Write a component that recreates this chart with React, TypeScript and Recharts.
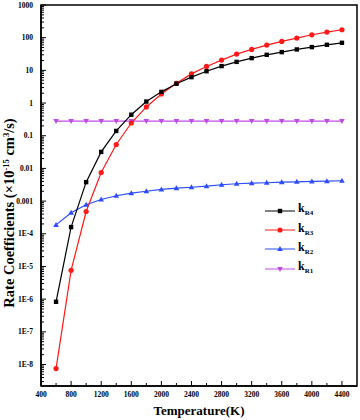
import { LineChart, Line, XAxis, YAxis, ReferenceArea } from "recharts";

const temps = [600, 800, 1000, 1200, 1400, 1600, 1800, 2000, 2200, 2400, 2600, 2800, 3000, 3200, 3400, 3600, 3800, 4000, 4200, 4400];
const kR4 = [8.3e-7, 1.6e-4, 3.8e-3, 0.032, 0.14, 0.44, 1.11, 2.2, 3.9, 6.2, 9.4, 13.5, 18.2, 23.7, 29.9, 36.2, 43.7, 51.5, 60.6, 69.8];
const kR3 = [7.5e-9, 7.6e-6, 4.8e-4, 7.5e-3, 0.054, 0.245, 0.76, 1.9, 4.0, 7.8, 13.2, 20.6, 31.4, 43.7, 59.3, 76.9, 97, 122.7, 148.6, 174.6];
const kR2 = [1.87e-4, 4.4e-4, 7.7e-4, 1.12e-3, 1.46e-3, 1.75e-3, 2.0e-3, 2.27e-3, 2.49e-3, 2.65e-3, 2.86e-3, 3.16e-3, 3.4e-3, 3.54e-3, 3.64e-3, 3.8e-3, 3.9e-3, 4.0e-3, 4.07e-3, 4.2e-3];
const kR1 = [0.28, 0.28, 0.28, 0.28, 0.28, 0.28, 0.28, 0.28, 0.28, 0.28, 0.28, 0.28, 0.28, 0.28, 0.28, 0.28, 0.28, 0.28, 0.28, 0.28];

const xTicks = [400, 600, 800, 1000, 1200, 1400, 1600, 1800, 2000, 2200, 2400, 2600, 2800, 3000, 3200, 3400, 3600, 3800, 4000, 4200, 4400];
const xLabels = [400, 800, 1200, 1600, 2000, 2400, 2800, 3200, 3600, 4000, 4400];
const yDecades = [1e-9, 1e-8, 1e-7, 1e-6, 1e-5, 1e-4, 1e-3, 1e-2, 0.1, 1, 10, 100, 1000];
const yLabels = ["", "1E-8", "1E-7", "1E-6", "1E-5", "1E-4", "0.001", "0.01", "0.1", "1", "10", "100", "1000"];
const X_MIN = 400;
const X_MAX = 4600;
const Y_MIN = 2.2e-9;
const Y_MAX = 1000;

const FONT = "'Liberation Serif', 'Times New Roman', serif";
const BLACK = "#000000";
const RED = "#ff1a1a";
const BLUE = "#2b4cff";
const PURPLE = "#c04ae6";

const data = temps.map((T, i) => ({ T, kR4: kR4[i], kR3: kR3[i], kR2: kR2[i], kR1: kR1[i] }));

const yLabelMap = new Map<number, string>();
yDecades.forEach((d, i) => yLabelMap.set(d, yLabels[i]));
const yTicks: number[] = [];
yDecades.forEach((d) => {
  for (let k = 1; k <= 9; k++) {
    const v = k === 1 ? d : d * k;
    if (v >= Y_MIN && v <= Y_MAX) yTicks.push(v);
  }
});

function XTick({ x, y, payload }: any) {
  const major = xLabels.includes(payload.value);
  return (
    <g>
      <line x1={x} x2={x} y1={y} y2={y - (major ? 5 : 3)} stroke="#000" strokeWidth={1} />
      {major && (
        <text x={x} y={y + 11} textAnchor="middle" fontFamily={FONT} fontWeight="bold" fontSize={7.5} fill="#000">
          {payload.value}
        </text>
      )}
    </g>
  );
}

function YTick({ x, y, payload }: any) {
  const lab = yLabelMap.get(payload.value);
  const major = lab !== undefined;
  return (
    <g>
      <line x1={x} x2={x + (major ? 5 : 3)} y1={y} y2={y} stroke="#000" strokeWidth={1} />
      {major && lab !== "" && (
        <text x={x - 8} y={y} dy="0.35em" textAnchor="end" fontFamily={FONT} fontWeight="bold" fontSize={7.5} fill="#000">
          {lab}
        </text>
      )}
    </g>
  );
}

const square = (color: string) => (p: any) => (
  <rect key={`s${p.index}`} x={p.cx - 2.2} y={p.cy - 2.2} width={4.4} height={4.4} fill={color} />
);
const circle = (color: string) => (p: any) => (
  <circle key={`c${p.index}`} cx={p.cx} cy={p.cy} r={2.6} fill={color} />
);
const triUp = (color: string) => (p: any) => (
  <polygon key={`u${p.index}`} points={`${p.cx},${p.cy - 3} ${p.cx - 2.8},${p.cy + 2} ${p.cx + 2.8},${p.cy + 2}`} fill={color} />
);
const triDown = (color: string) => (p: any) => (
  <polygon key={`d${p.index}`} points={`${p.cx},${p.cy + 3} ${p.cx - 2.8},${p.cy - 2} ${p.cx + 2.8},${p.cy - 2}`} fill={color} />
);

const legendItems = [
  { sub: "R4", color: BLACK, shape: square },
  { sub: "R3", color: RED, shape: circle },
  { sub: "R2", color: BLUE, shape: triUp },
  { sub: "R1", color: PURPLE, shape: triDown },
];

function LegendBox() {
  return (
    <div style={{ position: "absolute", left: 263, top: 201, fontFamily: FONT, fontWeight: "bold" }}>
      {legendItems.map((it) => (
        <div key={it.sub} style={{ display: "flex", alignItems: "center", height: 19.4 }}>
          <svg width={35} height={10}>
            <line x1={2} x2={32} y1={5} y2={5} stroke={it.color} strokeWidth={1} />
            {it.shape(it.color)({ cx: 17, cy: 5, index: 0 })}
          </svg>
          <span style={{ fontSize: 12, lineHeight: "12px" }}>
            k<sub style={{ fontSize: 7, verticalAlign: "-3px" }}>{it.sub}</sub>
          </span>
        </div>
      ))}
    </div>
  );
}

export default function App() {
  return (
    <div style={{ position: "absolute", left: 0, top: 0, width: 360, height: 420, background: "#fff" }}>
      <LineChart width={360} height={420} data={data} margin={{ top: 5, right: 3, left: 0, bottom: 0 }}>
        <XAxis
          dataKey="T"
          type="number"
          domain={[X_MIN, X_MAX]}
          ticks={xTicks}
          interval={0}
          tickSize={0}
          tickMargin={0}
          tickLine={false}
          tick={<XTick />}
          height={34}
          axisLine={{ stroke: "#000", strokeWidth: 1.5 }}
        />
        <YAxis
          scale="log"
          type="number"
          domain={[Y_MIN, Y_MAX]}
          allowDataOverflow
          ticks={yTicks}
          interval={0}
          tickSize={0}
          tickMargin={0}
          tickLine={false}
          tick={<YTick />}
          width={41}
          axisLine={{ stroke: "#000", strokeWidth: 1.5 }}
        />
        <ReferenceArea x1={X_MIN} x2={X_MAX} y1={Y_MIN} y2={Y_MAX} fill="none" stroke="#000" strokeWidth={1.5} ifOverflow="extendDomain" />
        <Line dataKey="kR1" stroke={PURPLE} strokeWidth={1.2} dot={triDown(PURPLE)} isAnimationActive={false} />
        <Line dataKey="kR2" stroke={BLUE} strokeWidth={1.2} dot={triUp(BLUE)} isAnimationActive={false} />
        <Line dataKey="kR3" stroke={RED} strokeWidth={1.2} dot={circle(RED)} isAnimationActive={false} />
        <Line dataKey="kR4" stroke={BLACK} strokeWidth={1.2} dot={square(BLACK)} isAnimationActive={false} />
        <text x={199} y={415} textAnchor="middle" fontFamily={FONT} fontWeight="bold" fontSize={13} fill="#000">
          Temperature(K)
        </text>
        <text
          transform="translate(14, 213) rotate(-90)"
          textAnchor="middle"
          fontFamily={FONT}
          fontWeight="bold"
          fontSize={14.5}
          fill="#000"
        >
          Rate Coefficients (×10<tspan dy={-5} fontSize={8.5}>-15</tspan>
          <tspan dy={5}> cm</tspan>
          <tspan dy={-5} fontSize={8.5}>3</tspan>
          <tspan dy={5}>/s)</tspan>
        </text>
      </LineChart>
      <LegendBox />
    </div>
  );
}
